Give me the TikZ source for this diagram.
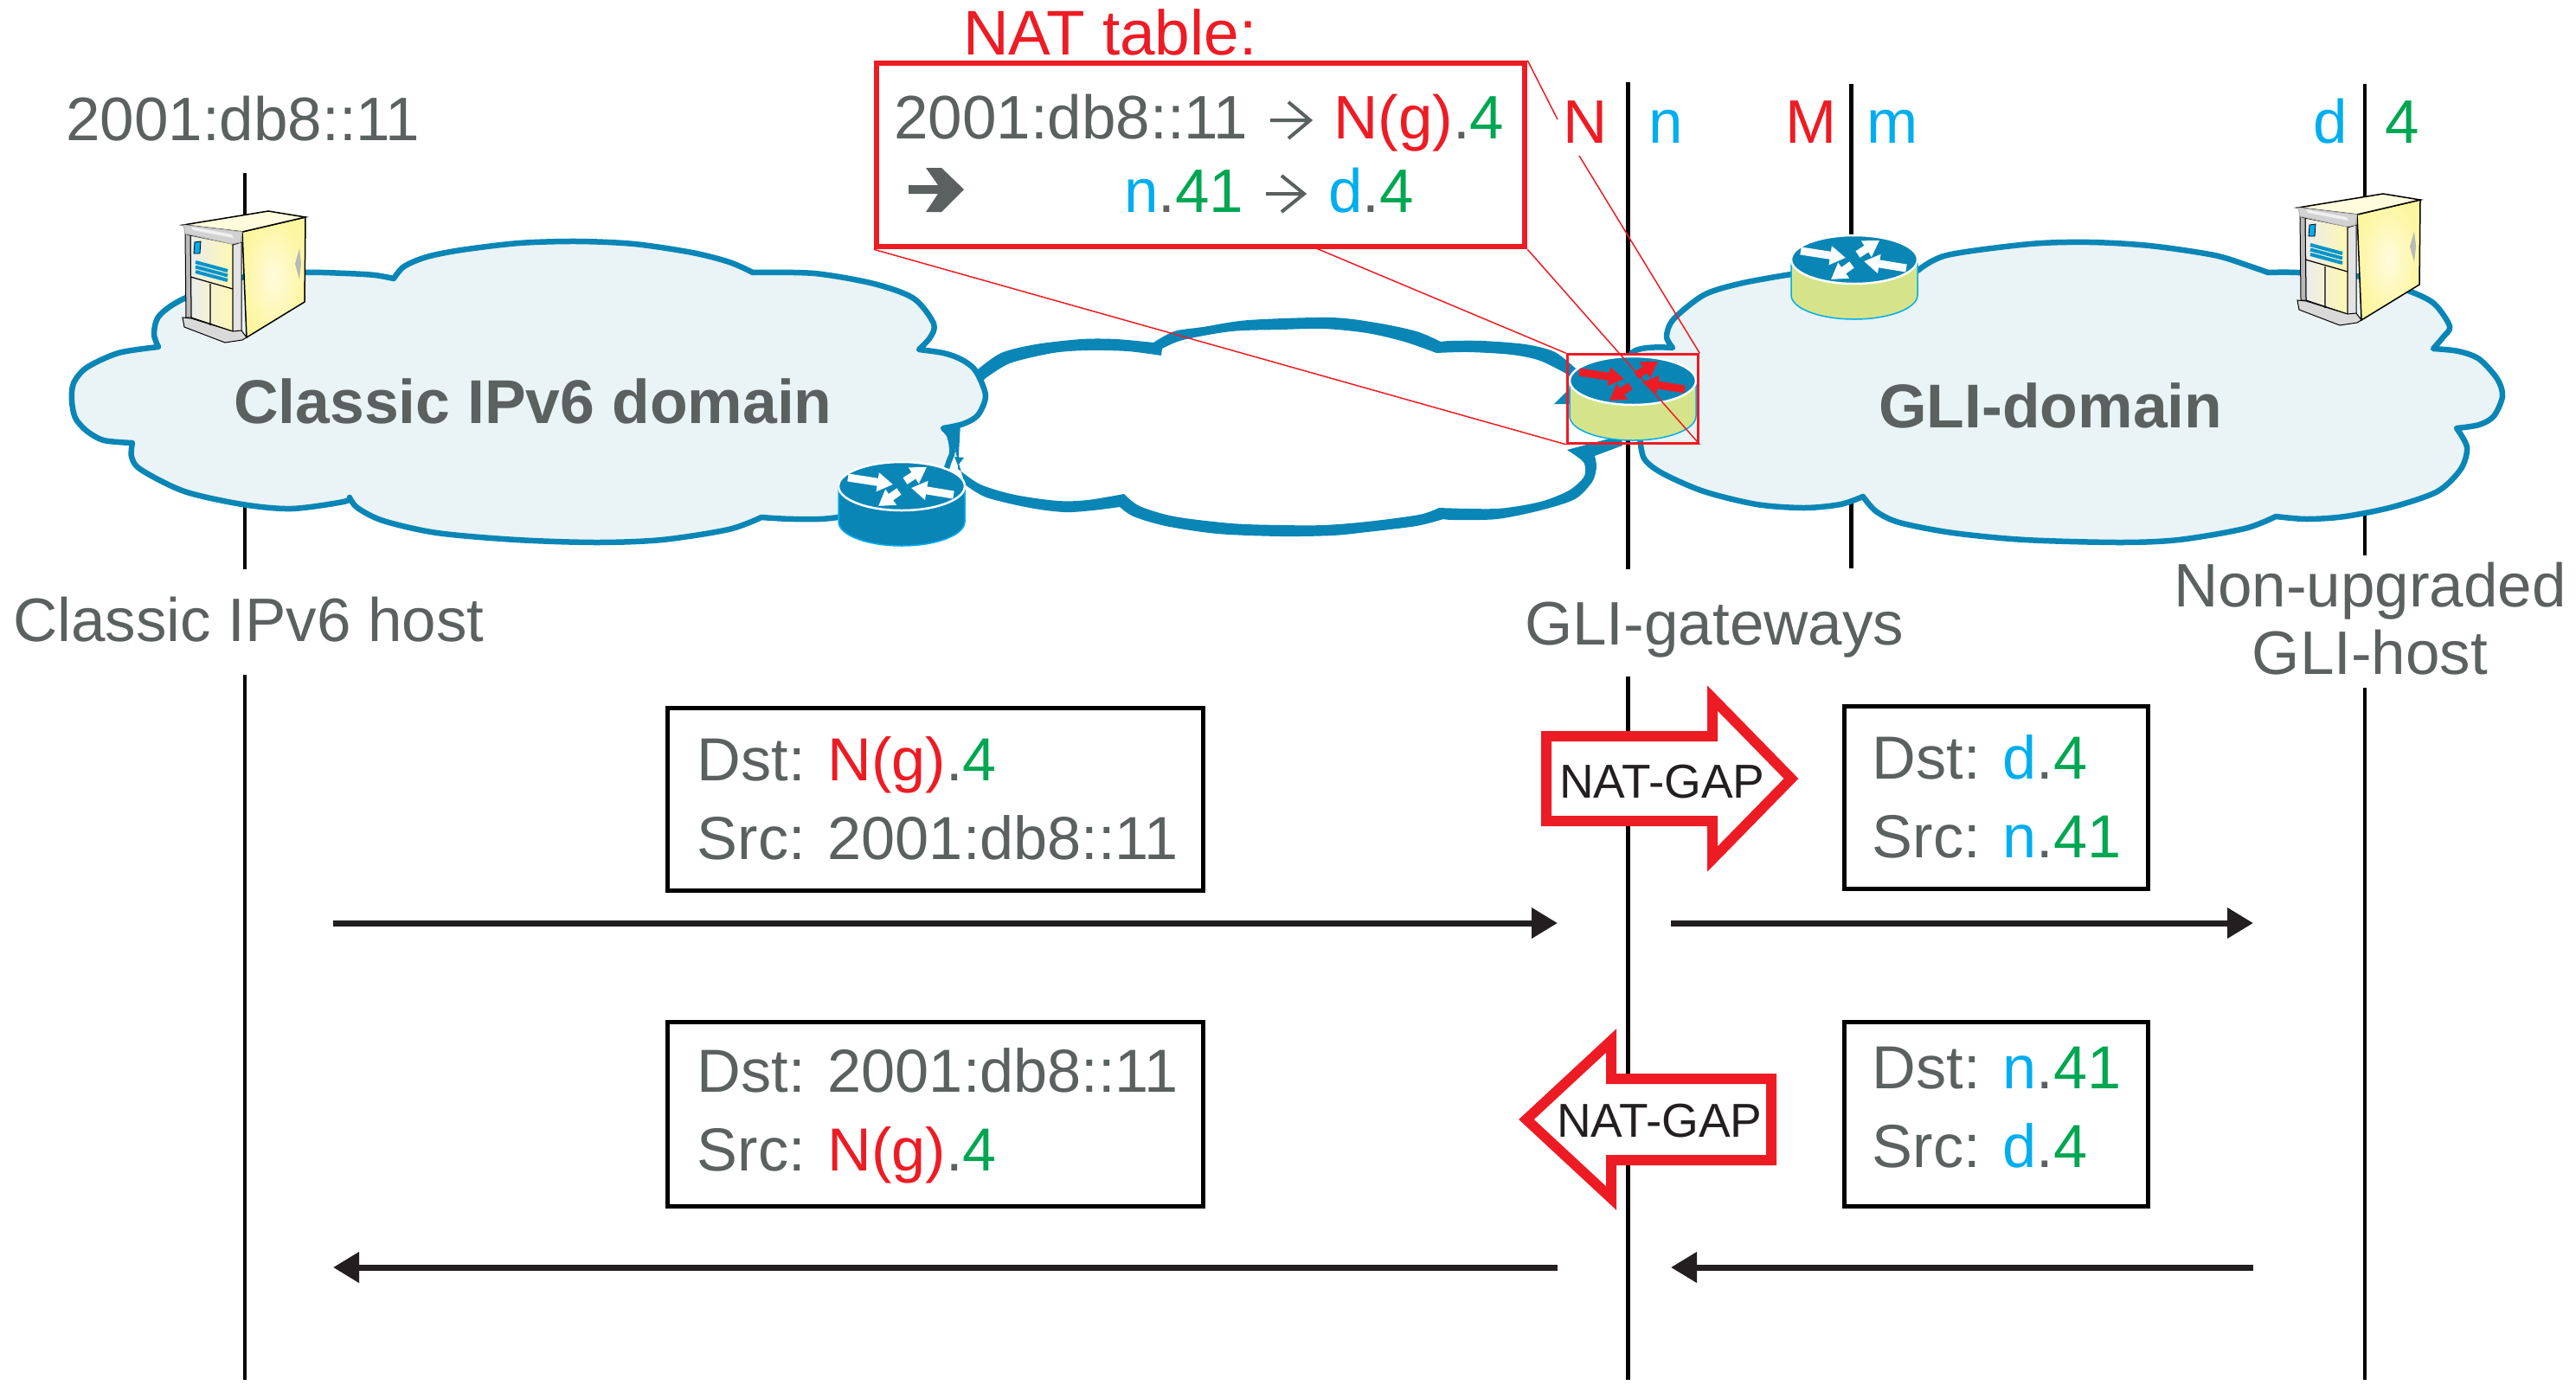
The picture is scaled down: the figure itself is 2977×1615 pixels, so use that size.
\documentclass[tikz,border=0pt]{standalone}
\usepackage{fontspec}
\setmainfont{Liberation Sans}
\usetikzlibrary{arrows.meta}

\definecolor{natred}{HTML}{ED1C24}
\definecolor{addrblue}{HTML}{00AEEF}
\definecolor{portgreen}{HTML}{00A651}
\definecolor{labelgrey}{HTML}{5A6160}
\definecolor{inkblack}{HTML}{231F20}
\definecolor{cloudblue}{HTML}{0A86B6}
\definecolor{cloudpale}{HTML}{EAF3F5}
\definecolor{routergreen}{HTML}{D5E48A}
\definecolor{caseyellow}{HTML}{FDF6A0}
\definecolor{casepale}{HTML}{FFFBDC}

\newcommand{\rd}[1]{\textcolor{natred}{#1}}
\newcommand{\bl}[1]{\textcolor{addrblue}{#1}}
\newcommand{\gn}[1]{\textcolor{portgreen}{#1}}

\tikzset{
  lbl/.style={inner sep=0, anchor=base west, text=labelgrey, font=\fontsize{71}{79}\selectfont},
  domain lbl/.style={lbl, font=\fontsize{71.5}{80}\selectfont\bfseries},
  gap lbl/.style={inner sep=0, anchor=base west, text=inkblack, font=\fontsize{55}{60}\selectfont},
  lifeline/.style={draw=black, line width=#1},
  cloud/.style={draw=cloudblue, line width=6.5pt, fill=cloudpale, line join=round},
  packet/.style 2 args={draw=black, line width=5pt, inner sep=0, minimum width=#1, minimum height=#2},
  packet text/.style={inner sep=0, anchor=west, align=left, text=labelgrey, font=\fontsize{70.3}{91}\selectfont},
  msg/.style={draw=inkblack, line width=7pt, -{Triangle[length=30pt,width=34pt]}},
  gap arrow/.style={draw=natred, line width=12pt, fill=white, miter limit=10},
  zoom line/.style={draw=natred, line width=1.5pt},
  pics/router/.style n args={3}{code={
    \draw[draw=addrblue, line width=1.5pt, fill=#1] (-73pt,0) -- (-73pt,41)
      arc[start angle=180, end angle=360, x radius=73pt, y radius=28pt] -- (73pt,0) -- cycle;
    \draw[draw=#2, line width=2.5pt, fill=cloudblue] (0,0) ellipse [x radius=73pt, y radius=28pt];
    \foreach \ax/\ay/\bx/\by in {-62/-10/-10/-2, 4/-6/29/-22, 60/10/11/2, -3/6/-27/23}
      \draw[draw=#3, line width=9pt, -{Triangle[length=18pt,width=21pt]}] (\ax,\ay) -- (\bx,\by);
  }},
  pics/server/.style={code={
    \shade[inner color=casepale, outer color=caseyellow, draw=black, line width=1.5pt]
      (69,24) -- (142,7) -- (141,105) -- (74,146) -- cycle;
    \fill[gray!55] (135,43) -- (130,61) -- (135,79) -- (137,61) -- cycle;
    \draw[draw=black, line width=1.5pt, fill=casepale] (1,16) -- (99,0) -- (142,7) -- (69,24) -- cycle;
    \shade[left color=gray!15, right color=caseyellow!80!white, draw=black, line width=1pt]
      (9,28) -- (58,38) -- (58,139) -- (10,123) -- cycle;
    \draw[draw=black, line width=1pt, fill=gray!55] (3,26) -- (9,28) -- (10,123) -- (4,123) -- cycle;
    \draw[draw=black, line width=1pt, fill=gray!22] (58,39) -- (68,36) -- (68,141) -- (58,139) -- cycle;
    \draw[draw=gray!60, line width=1pt, fill=gray!35] (1,16) -- (69,24) -- (67,36) -- (57,38) -- (3,26) -- cycle;
    \fill[gray!12] (10,18) -- (57,27) -- (59,31) -- (12,22) -- cycle;
    \draw[draw=black, line width=1pt, fill=gray!30] (0,123) -- (10,124) -- (58,139) -- (68,138) -- (74,146) -- (69,149) -- (49,152) -- (2,134) -- cycle;
    \draw[line width=1.2pt] (9,76) -- (58,90) (32,84) -- (32,132);
    \foreach \dy in {0,5.5,11}
      \draw[draw=addrblue!85!black, line width=4pt] (15,59+\dy) -- (52,69+\dy);
    \draw[draw=black, line width=.8pt, fill=addrblue] (14,36) -- (21,35) -- (20,49) -- (13,49) -- cycle;
  }}
}

\begin{document}
\begin{tikzpicture}[x=1pt, y=-1pt]
\useasboundingbox (0,0) rectangle (2977,1615);

% middle cloud, drawn as a band between two outlines
\fill[cloudblue, even odd rule]
  plot[smooth] coordinates {(1130,427) (1157,408) (1197,398) (1250,392) (1290,392) (1333,396)}
  -- plot[smooth] coordinates {(1333,396) (1357,383) (1390,378) (1443,370) (1537,367) (1590,373) (1637,383) (1665,395)}
  -- plot[smooth] coordinates {(1665,395) (1677,394) (1713,394) (1763,398) (1797,407) (1822,427)}
  -- (1870,470) -- (1875,515) -- (1843,527)
  -- plot[smooth] coordinates {(1843,527) (1845,540) (1840,557) (1820,577) (1780,590) (1730,600) (1680,601) (1668,600)}
  -- plot[smooth] coordinates {(1668,600) (1637,608) (1580,615) (1540,619) (1480,620) (1407,617) (1347,608) (1310,597) (1294,586)}
  -- plot[smooth] coordinates {(1294,586) (1263,590) (1230,592) (1190,587) (1140,575) (1115,560)}
  -- (1095,490) -- cycle
  plot[smooth] coordinates {(1138,438) (1167,420) (1217,408) (1257,405) (1303,406) (1342,411)}
  -- (1343,403)
  -- plot[smooth] coordinates {(1343,403) (1367,393) (1423,383) (1480,381) (1530,380) (1580,385) (1623,395) (1660,408)}
  -- plot[smooth] coordinates {(1660,408) (1697,407) (1747,410) (1780,417) (1812,433)}
  -- (1840,470) -- (1860,507) -- (1811,520)
  -- plot[smooth] coordinates {(1811,520) (1828,532) (1832,540) (1830,552) (1813,567) (1780,580) (1730,588) (1663,587)}
  -- plot[smooth] coordinates {(1663,587) (1640,595) (1580,603) (1530,607) (1480,607) (1423,605) (1357,597) (1317,585) (1299,571)}
  -- plot[smooth] coordinates {(1299,571) (1257,578) (1223,579) (1173,572) (1133,560) (1107,542)}
  -- (1110,490) -- cycle;
\fill[cloudblue] (1796,467) -- (1816,447) -- (1816,467) -- cycle;
\fill[cloudblue] (1103,528) -- (1114,529) -- (1107,538) -- cycle;

\coordinate (host top) at (283,200);
\coordinate (host mid) at (283,658);
\coordinate (host low) at (283,780);
\coordinate (host end) at (283,1595);
\coordinate (gate top) at (1881,95);
\coordinate (gate mid) at (1881,658);
\coordinate (gate low) at (1881,782);
\coordinate (gate end) at (1881,1595);
\coordinate (inner top) at (2139,97);
\coordinate (inner mid) at (2139,657);
\coordinate (dest top) at (2733,97);
\coordinate (dest mid) at (2733,642);
\coordinate (dest low) at (2733,795);
\coordinate (dest end) at (2733,1595);

\draw[lifeline=3.3pt] (host top) -- (host mid);
\draw[lifeline=3.3pt] (host low) -- (host end);
\draw[lifeline=5pt] (gate top) -- (gate mid);
\draw[lifeline=5pt] (gate low) -- (gate end);
\draw[lifeline=5pt] (inner top) -- (inner mid);
\draw[lifeline=3.5pt] (dest top) -- (dest mid);
\draw[lifeline=3.5pt] (dest low) -- (dest end);

% classic domain
\draw[cloud]
  plot[smooth] coordinates {(183,401) (178,386) (184,365) (213,345) (283,320) (352,315) (400,316) (433,318) (455,322)}
  -- plot[smooth] coordinates {(455,322) (467,308) (493,297) (533,289) (600,281) (667,279) (733,282) (800,292) (843,303) (870,315)}
  -- plot[smooth] coordinates {(870,315) (941,316) (1010,328) (1056,345) (1079,374) (1075,390) (1062,404)}
  -- plot[smooth] coordinates {(1062,404) (1090,408) (1110,415) (1127,428) (1139,457) (1130,480) (1113,490) (1090,495)}
  -- plot[smooth] coordinates {(1090,495) (1097,503) (1100,517) (1098,530) (1071,577) (968,598) (918,600) (880,598)}
  -- plot[smooth] coordinates {(880,598) (842,612) (765,624) (689,627) (597,624) (505,616) (443,602) (413,587) (404,575)}
  -- plot[smooth] coordinates {(404,575) (397,580) (337,588) (280,583) (213,568) (163,543) (152,528) (153,512)}
  -- plot[smooth] coordinates {(153,512) (120,509) (100,498) (87,483) (83,463) (85,443) (100,425) (137,408) (183,401)}
  -- cycle;

% GLI domain
\draw[cloud]
  plot[smooth] coordinates {(1933,402) (1926,389) (1934,369) (1969,341) (2010,328) (2070,317) (2150,305) (2216,313)}
  -- plot[smooth] coordinates {(2216,313) (2250,295) (2346,282) (2415,280) (2484,284) (2559,295) (2601,308) (2621,315)}
  -- plot[smooth] coordinates {(2621,315) (2655,315) (2730,320) (2783,336) (2813,351) (2831,377) (2824,389) (2812,403)}
  -- plot[smooth] coordinates {(2812,403) (2841,406) (2865,415) (2886,438) (2892,458) (2882,481) (2865,491) (2839,495)}
  -- plot[smooth] coordinates {(2839,495) (2851,517) (2844,542) (2817,568) (2765,586) (2710,597) (2666,600) (2630,597)}
  -- plot[smooth] coordinates {(2630,597) (2594,611) (2518,624) (2449,627) (2340,624) (2257,616) (2195,604) (2168,591) (2153,574)}
  -- plot[smooth] coordinates {(2153,574) (2127,583) (2085,587) (2030,583) (1969,568) (1921,547) (1900,530) (1895,505)}
  -- plot[smooth] coordinates {(1895,505) (1875,470) (1886,408) (1933,402)}
  -- cycle;

\pic (edge router) at (1042,562) {router={cloudblue}{white}{white}};
\pic (core router) at (2143,300) {router={routergreen}{white}{white}};
\pic (nat router) at (1887,440) {router={routergreen}{white}{natred}};
\pic (host box) at (211,244) {server};
\pic (dest box) at (2655,224) {server};

\node[lbl] (host addr) at (76,162) {2001:db8::11};
\node[lbl] (host name) at (15,741) {Classic IPv6 host};
\node[lbl] (gate name) at (1762,745) {GLI-gateways};
\node[inner sep=0, text=labelgrey, align=center, font=\fontsize{71}{78}\selectfont] (dest name) at (2739,715) {Non-upgraded\\GLI-host};
\node[domain lbl] (classic name) at (270,489) {Classic IPv6 domain};
\node[domain lbl] (gli name) at (2171,494) {GLI-domain};

\node[lbl, text=natred] (big n) at (1806,165) {N};
\node[lbl, text=addrblue] (small n) at (1905,165) {n};
\node[lbl, text=natred] (big m) at (2063,165) {M};
\node[lbl, text=addrblue] (small m) at (2157,165) {m};
\node[lbl, text=addrblue] (small d) at (2673,165) {d};
\node[lbl, text=portgreen] (port) at (2756,165) {4};

% NAT table
\node[lbl, text=natred, font=\fontsize{73}{80}\selectfont] (nat title) at (1113,63) {NAT table:};
\node[draw=natred, line width=6.5pt, minimum width=749pt, minimum height=212pt, inner sep=0] (nat box) at (1387.5,179) {};
\node[lbl] (row one) at (1033,160) {2001:db8::11};
\node[lbl] (row one out) at (1541,160) {\rd{N(g)}.\gn{4}};
\node[lbl] (row two) at (1299,245) {\bl{n}.\gn{41}};
\node[lbl] (row two out) at (1535,245) {\bl{d}.\gn{4}};
\draw[draw=labelgrey, line width=4pt] (1468,139) -- (1514,139) (1489,118) -- (1514,139) -- (1489,160);
\draw[draw=labelgrey, line width=4pt] (1463,224) -- (1507,224) (1481,203) -- (1507,224) -- (1481,245);
\fill[labelgrey] (1050,214) -- (1084,214) -- (1070,194) -- (1088,194) -- (1114,219) -- (1088,245) -- (1070,245) -- (1084,224) -- (1050,224) -- cycle;

\node[draw=natred, line width=3pt, minimum width=151.5pt, minimum height=102.5pt, inner sep=0] (nat focus) at (1887,461) {};
\coordinate (box foot) at (1521,287);
\coordinate (gap above) at (1800,138);
\coordinate (gap below) at (1825,180);
\draw[zoom line] (nat box.south west) -- (nat focus.south west);
\draw[zoom line] (box foot) -- (nat focus.north west);
\draw[zoom line] (nat box.south east) -- (nat focus.south east);
\draw[zoom line] (nat box.north east) -- (gap above);
\draw[zoom line] (gap below) -- (nat focus.north east);

% packets
\node[packet={619pt}{211pt}] (pkt out left) at (1080.5,924) {};
\node[packet={351pt}{211pt}] (pkt out right) at (2306.5,922) {};
\node[packet={619pt}{213pt}] (pkt back left) at (1080.5,1288) {};
\node[packet={351pt}{213pt}] (pkt back right) at (2306.5,1288) {};
\node[packet text] (txt out left) at ([xshift=37pt,yshift=1pt]pkt out left.west) {Dst: \rd{N(g)}.\gn{4}\\Src: 2001:db8::11};
\node[packet text] (txt out right) at ([xshift=35pt,yshift=1pt]pkt out right.west) {Dst: \bl{d}.\gn{4}\\Src: \bl{n}.\gn{41}};
\node[packet text] (txt back left) at ([xshift=37pt,yshift=-2pt]pkt back left.west) {Dst: 2001:db8::11\\Src: \rd{N(g)}.\gn{4}};
\node[packet text] (txt back right) at ([xshift=35pt,yshift=8pt]pkt back right.west) {Dst: \bl{n}.\gn{41}\\Src: \bl{d}.\gn{4}};

\coordinate (out a) at (385,1067);
\coordinate (out b) at (1800,1067);
\coordinate (out c) at (1931,1067);
\coordinate (out d) at (2604,1067);
\coordinate (back a) at (1800,1465);
\coordinate (back b) at (385,1465);
\coordinate (back c) at (2604,1465);
\coordinate (back d) at (1931,1465);
\draw[msg] (out a) -- (out b);
\draw[msg] (out c) -- (out d);
\draw[msg] (back a) -- (back b);
\draw[msg] (back c) -- (back d);

% gaps
\draw[gap arrow] (1787,851) -- (1979,851) -- (1979,807) -- (2070,900) -- (1979,993) -- (1979,949) -- (1787,949) -- cycle;
\node[gap lbl] (gap out) at (1802,922) {NAT-GAP};
\draw[gap arrow] (2047,1247) -- (1862,1247) -- (1862,1203) -- (1764,1294) -- (1862,1385) -- (1862,1341) -- (2047,1341) -- cycle;
\node[gap lbl] (gap back) at (1799,1314) {NAT-GAP};
\end{tikzpicture}
\end{document}
